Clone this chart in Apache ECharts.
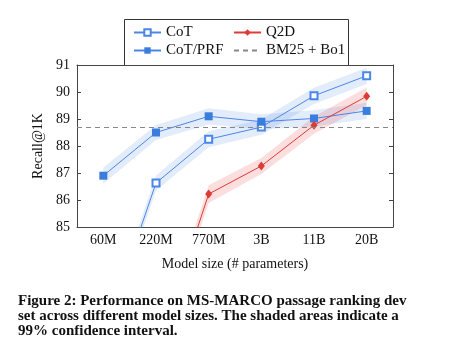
<!DOCTYPE html>
<html>
<head>
<meta charset="utf-8">
<script src="https://cdn.jsdelivr.net/npm/echarts@6/dist/echarts.min.js"></script>
<style>
	html, body { margin: 0; padding: 0; background: #fff; }
	#main { width: 474px; height: 351px; }
</style>
</head>
<body>
<div id="main"></div>
<script>
// model sizes on the x axis
var categories = ['60M', '220M', '770M', '3B', '11B', '20B'];
var yTicks = [85, 86, 87, 88, 89, 90, 91];

// Recall@1K per model size (below 85 is off the chart)
var cotValues = [80.9, 86.63, 88.25, 88.7, 89.86, 90.6];
var prfValues = [86.9, 88.5, 89.1, 88.9, 89.02, 89.3];
var q2dValues = [null, 80.3, 86.22, 87.26, 88.77, 89.84];
var bm25Value = 88.68;

// half width of the 99% confidence band
var cotCI = [0.3, 0.28, 0.3, 0.28, 0.3, 0.3];
var prfCI = [0.3, 0.28, 0.3, 0.28, 0.3, 0.3];
var q2dCI = [null, 0.33, 0.33, 0.3, 0.32, 0.33];

var font = 'Liberation Serif';
var blue = '#4a86e8';
var red = '#dc3b36';
var axisColor = '#444';

function lower(vals, ci) {
	return vals.map(function (v, i) { return v == null ? null : v - ci[i]; });
}
function width(vals, ci) {
	return vals.map(function (v, i) { return v == null ? null : 2 * ci[i]; });
}
function band(name, vals, ci, color) {
	return [
		{
			name: name + '_lo', type: 'line', stack: name, data: lower(vals, ci),
			symbol: 'none', lineStyle: { opacity: 0 }, silent: true, z: 1
		},
		{
			name: name + '_band', type: 'line', stack: name, data: width(vals, ci),
			symbol: 'none', lineStyle: { opacity: 0 }, areaStyle: { color: color },
			silent: true, z: 1
		}
	];
}

var chart = echarts.init(document.getElementById('main'));

var series = []
	.concat(band('cot', cotValues, cotCI, 'rgba(74,134,232,0.22)'))
	.concat(band('prf', prfValues, prfCI, 'rgba(74,134,232,0.22)'))
	.concat(band('q2d', q2dValues, q2dCI, 'rgba(232,70,60,0.25)'))
	.concat([
		{
			name: 'BM25 + Bo1', type: 'line', data: [],
			symbol: 'none', lineStyle: { color: '#888', width: 1, type: [5, 4] }, z: 2,
			itemStyle: { color: '#888' },
			markLine: {
				silent: true, symbol: 'none', label: { show: false },
				lineStyle: { color: '#888', width: 1, type: [5, 4] },
				data: [{ yAxis: bm25Value }]
			}
		},
		{
			name: 'CoT', type: 'line', data: cotValues, symbol: 'emptyRect', symbolSize: 7,
			lineStyle: { color: blue, width: 1 }, itemStyle: { color: blue, borderWidth: 1 }, z: 3
		},
		{
			name: 'CoT/PRF', type: 'line', data: prfValues, symbol: 'rect', symbolSize: 8,
			lineStyle: { color: blue, width: 1 }, itemStyle: { color: '#3b7ddd' }, z: 3
		},
		{
			name: 'Q2D', type: 'line', data: q2dValues, symbol: 'diamond', symbolSize: [7, 9],
			lineStyle: { color: red, width: 1 }, itemStyle: { color: red }, z: 3
		}
	]);

var legendText = { fontFamily: font, fontSize: 15, color: '#111' };

var option = {
	animation: false,
	grid: { left: 77, right: 81, top: 65, bottom: 124 },
	legend: [
		{
			data: ['CoT', 'CoT/PRF'], orient: 'vertical', left: 128, top: 20,
			itemWidth: 27, itemHeight: 8, itemGap: 3, textStyle: legendText
		},
		{
			data: ['Q2D', { name: 'BM25 + Bo1', itemStyle: { opacity: 0 } }],
			orient: 'vertical', left: 228, top: 20,
			itemWidth: 27, itemHeight: 8, itemGap: 3, textStyle: legendText
		}
	],
	graphic: [
		{
			type: 'rect', left: 122, top: 17,
			shape: { width: 224, height: 46 },
			style: { fill: 'none', stroke: '#333', lineWidth: 1 }
		},
		{
			type: 'text', left: 18, top: 294,
			style: {
				text: 'Figure 2: Performance on MS-MARCO passage ranking dev\nset across different model sizes. The shaded areas indicate a\n99% confidence interval.',
				font: 'bold 15px "Liberation Serif"', fill: '#111', lineHeight: 15
			}
		}
	],
	xAxis: [
		{
			type: 'category', data: categories, boundaryGap: true,
			name: 'Model size (# parameters)', nameLocation: 'middle', nameGap: 30,
			nameTextStyle: { fontFamily: font, fontSize: 14, color: '#111' },
			axisLine: { lineStyle: { color: axisColor } },
			axisTick: { inside: true, alignWithLabel: true, length: 4, lineStyle: { color: axisColor } },
			axisLabel: { fontFamily: font, fontSize: 14, color: '#111', margin: 6 }
		},
		{
			type: 'category', data: categories, boundaryGap: true, position: 'top',
			axisLine: { lineStyle: { color: axisColor } },
			axisTick: { inside: true, alignWithLabel: true, length: 4, lineStyle: { color: axisColor } },
			axisLabel: { show: false }
		}
	],
	yAxis: [
		{
			type: 'value', min: yTicks[0], max: yTicks[yTicks.length - 1], interval: 1,
			name: 'Recall@1K', nameLocation: 'middle', nameGap: 30,
			nameTextStyle: { fontFamily: font, fontSize: 14, color: '#111' },
			axisLine: { show: true, lineStyle: { color: axisColor } },
			axisTick: { show: true, inside: true, length: 4, lineStyle: { color: axisColor } },
			axisLabel: { fontFamily: font, fontSize: 14, color: '#111', margin: 7 },
			splitLine: { show: false }
		},
		{
			type: 'value', min: yTicks[0], max: yTicks[yTicks.length - 1], interval: 1, position: 'right',
			axisLine: { show: true, lineStyle: { color: axisColor } },
			axisTick: { show: true, inside: true, length: 4, lineStyle: { color: axisColor } },
			axisLabel: { show: false },
			splitLine: { show: false }
		}
	],
	series: series
};

chart.setOption(option);
</script>
</body>
</html>
